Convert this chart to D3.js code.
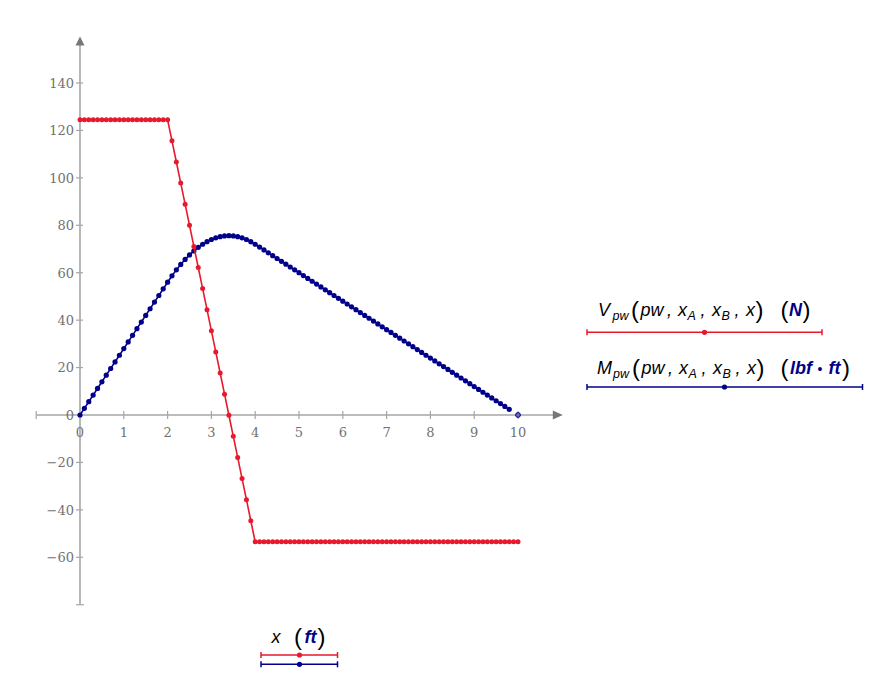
<!DOCTYPE html>
<html>
<head>
<meta charset="utf-8">
<script src="https://cdn.jsdelivr.net/npm/d3@7"></script>
<style>
  html, body { margin: 0; padding: 0; background: #fff; }
  svg { display: block; }
  .tick-label { font-family: "DejaVu Serif", "Liberation Serif", serif; font-size: 13px; fill: #727272; }
  .legend { font-family: "Liberation Sans", Arial, sans-serif; font-style: italic; font-size: 18px; fill: #000; }
</style>
</head>
<body>
<svg id="chart" width="888" height="679"></svg>
<script>
// sample positions along the beam (ft)
var xs = [0, 0.1, 0.2, 0.3, 0.4, 0.5, 0.6, 0.7, 0.8, 0.9,
          1, 1.1, 1.2, 1.3, 1.4, 1.5, 1.6, 1.7, 1.8, 1.9,
          2, 2.1, 2.2, 2.3, 2.4, 2.5, 2.6, 2.7, 2.8, 2.9,
          3, 3.1, 3.2, 3.3, 3.4, 3.5, 3.6, 3.7, 3.8, 3.9,
          4, 4.1, 4.2, 4.3, 4.4, 4.5, 4.6, 4.7, 4.8, 4.9,
          5, 5.1, 5.2, 5.3, 5.4, 5.5, 5.6, 5.7, 5.8, 5.9,
          6, 6.1, 6.2, 6.3, 6.4, 6.5, 6.6, 6.7, 6.8, 6.9,
          7, 7.1, 7.2, 7.3, 7.4, 7.5, 7.6, 7.7, 7.8, 7.9,
          8, 8.1, 8.2, 8.3, 8.4, 8.5, 8.6, 8.7, 8.8, 8.9,
          9, 9.1, 9.2, 9.3, 9.4, 9.5, 9.6, 9.7, 9.8, 9.9, 10];

// shear V_pw (N)
var shearV = [124.5, 124.5, 124.5, 124.5, 124.5, 124.5, 124.5, 124.5, 124.5, 124.5,
              124.5, 124.5, 124.5, 124.5, 124.5, 124.5, 124.5, 124.5, 124.5, 124.5,
              124.5, 115.6, 106.7, 97.8, 88.9, 80.0, 71.1, 62.2, 53.3, 44.4,
              35.5, 26.6, 17.7, 8.8, -0.1, -9.0, -17.9, -26.8, -35.7, -44.6,
              -53.5, -53.5, -53.5, -53.5, -53.5, -53.5, -53.5, -53.5, -53.5, -53.5,
              -53.5, -53.5, -53.5, -53.5, -53.5, -53.5, -53.5, -53.5, -53.5, -53.5,
              -53.5, -53.5, -53.5, -53.5, -53.5, -53.5, -53.5, -53.5, -53.5, -53.5,
              -53.5, -53.5, -53.5, -53.5, -53.5, -53.5, -53.5, -53.5, -53.5, -53.5,
              -53.5, -53.5, -53.5, -53.5, -53.5, -53.5, -53.5, -53.5, -53.5, -53.5,
              -53.5, -53.5, -53.5, -53.5, -53.5, -53.5, -53.5, -53.5, -53.5, -53.5, -53.5];

// moment M_pw (lbf ft), traced up to x = 9.8
var momentM = [0, 2.8, 5.6, 8.4, 11.2, 14.0, 16.8, 19.6, 22.4, 25.2,
               28.0, 30.8, 33.6, 36.4, 39.2, 42.0, 44.8, 47.6, 50.4, 53.2,
               56.0, 58.7, 61.2, 63.5, 65.6, 67.5, 69.2, 70.7, 72.0, 73.1,
               74.0, 74.7, 75.2, 75.5, 75.6, 75.5, 75.2, 74.7, 74.0, 73.1,
               72.0, 70.8, 69.6, 68.4, 67.2, 66.0, 64.8, 63.6, 62.4, 61.2,
               60.0, 58.8, 57.6, 56.4, 55.2, 54.0, 52.8, 51.6, 50.4, 49.2,
               48.0, 46.8, 45.6, 44.4, 43.2, 42.0, 40.8, 39.6, 38.4, 37.2,
               36.0, 34.8, 33.6, 32.4, 31.2, 30.0, 28.8, 27.6, 26.4, 25.2,
               24.0, 22.8, 21.6, 20.4, 19.2, 18.0, 16.8, 15.6, 14.4, 13.2,
               12.0, 10.8, 9.6, 8.4, 7.2, 6.0, 4.8, 3.6, 2.4];
// lone end point of the moment trace
var momentEnd = [[10, 0]];

var yTickValues = [-60, -40, -20, 0, 20, 40, 60, 80, 100, 120, 140];
var xTickValues = [0, 1, 2, 3, 4, 5, 6, 7, 8, 9, 10];

var RED = "#e8192c", NAVY = "#00008b", AXIS = "#a6a6a6";

var svg = d3.select("#chart");
svg.append("rect").attr("width", 888).attr("height", 679).attr("fill", "#fff");

var x = d3.scaleLinear().domain([0, 10]).range([80, 518]);
var y = d3.scaleLinear().domain([0, 140]).range([415, 83]);

// axes
var axes = svg.append("g");
// y axis line from -80 up to the arrow
axes.append("line")
    .attr("x1", x(0)).attr("x2", x(0))
    .attr("y1", y(-80)).attr("y2", y(160) + 8)
    .attr("stroke", AXIS).attr("stroke-width", 1.6);
axes.append("line")
    .attr("x1", x(0) - 4).attr("x2", x(0) + 4)
    .attr("y1", y(-80)).attr("y2", y(-80))
    .attr("stroke", AXIS).attr("stroke-width", 1.2);
axes.append("path")
    .attr("d", "M" + x(0) + "," + (y(160) + 1) + "l-4.5,9h9z")
    .attr("fill", "#777");
// x axis line from -1 to the arrow
axes.append("line")
    .attr("x1", x(-1)).attr("x2", x(11) - 8)
    .attr("y1", y(0)).attr("y2", y(0))
    .attr("stroke", AXIS).attr("stroke-width", 1.6);
axes.append("line")
    .attr("x1", x(-1)).attr("x2", x(-1))
    .attr("y1", y(0) - 4).attr("y2", y(0) + 4)
    .attr("stroke", AXIS).attr("stroke-width", 1.2);
axes.append("path")
    .attr("d", "M" + (x(11) + 1) + "," + y(0) + "l-10,-4.5v9z")
    .attr("fill", "#777");

var fmt = d3.format("");
axes.selectAll(".ytick").data(yTickValues.filter(function(d) { return d !== 0; }))
  .enter().append("line")
    .attr("x1", x(0) - 4).attr("x2", x(0) + 3)
    .attr("y1", function(d) { return y(d); }).attr("y2", function(d) { return y(d); })
    .attr("stroke", AXIS).attr("stroke-width", 1.2);
axes.selectAll(".ylab").data(yTickValues)
  .enter().append("text")
    .attr("class", "tick-label")
    .attr("text-anchor", "end")
    .attr("x", x(0) - 6)
    .attr("y", function(d) { return y(d) + 4.8; })
    .text(function(d) { return fmt(d); });

axes.selectAll(".xtick").data(xTickValues.filter(function(d) { return d !== 0; }))
  .enter().append("line")
    .attr("x1", function(d) { return x(d); }).attr("x2", function(d) { return x(d); })
    .attr("y1", y(0) - 4).attr("y2", y(0) + 4)
    .attr("stroke", AXIS).attr("stroke-width", 1.2);
axes.selectAll(".xlab").data(xTickValues)
  .enter().append("text")
    .attr("class", "tick-label")
    .attr("text-anchor", "middle")
    .attr("x", function(d) { return x(d); })
    .attr("y", y(0) + 21.5)
    .text(function(d) { return fmt(d); });

// traces
var line = d3.line()
    .x(function(d) { return x(d[0]); })
    .y(function(d) { return y(d[1]); });

var vData = xs.map(function(v, i) { return [v, shearV[i]]; });
var mData = momentM.map(function(v, i) { return [xs[i], v]; });

function drawTrace(data, color, r) {
    var g = svg.append("g");
    g.append("path").datum(data)
        .attr("d", line)
        .attr("fill", "none")
        .attr("stroke", color)
        .attr("stroke-width", 1.6);
    g.selectAll("circle").data(data).enter().append("circle")
        .attr("cx", function(d) { return x(d[0]); })
        .attr("cy", function(d) { return y(d[1]); })
        .attr("r", r)
        .attr("fill", color);
}
drawTrace(mData, NAVY, 2.6);
drawTrace(vData, RED, 2.5);

svg.selectAll(".mend").data(momentEnd).enter().append("circle")
    .attr("cx", function(d) { return x(d[0]); })
    .attr("cy", function(d) { return y(d[1]); })
    .attr("r", 2.4)
    .attr("fill", "#6d6db8")
    .attr("stroke", NAVY)
    .attr("stroke-width", 1);

// legend
function legendText(baseline, tokens) {
    var t = svg.append("text").attr("class", "legend");
    tokens.forEach(function(k) {
        var s = t.append("tspan").attr("x", k[1]).attr("y", baseline + (k[2] === "sub" ? 4.5 : 0)).text(k[0]);
        if (k[2] === "sub") s.style("font-size", "12.5px");
        if (k[2] === "par") s.style("font-size", "24px").style("font-style", "normal").attr("y", baseline + 2);
        if (k[2] === "unit") s.style("font-weight", "bold").style("fill", NAVY);
        if (k[2] === "dot") s.style("font-style", "normal").style("fill", NAVY).style("font-size", "14px");
    });
}
function legendLine(y0, x1, x2, xm, color) {
    var g = svg.append("g").attr("stroke", color).attr("stroke-width", 1.5);
    g.append("line").attr("x1", x1).attr("x2", x2).attr("y1", y0).attr("y2", y0);
    g.append("line").attr("x1", x1).attr("x2", x1).attr("y1", y0 - 3).attr("y2", y0 + 3);
    g.append("line").attr("x1", x2).attr("x2", x2).attr("y1", y0 - 3).attr("y2", y0 + 3);
    svg.append("circle").attr("cx", xm).attr("cy", y0).attr("r", 2.6).attr("fill", color);
}

legendText(315.7, [["V", 598], ["pw", 612.5, "sub"], ["(", 631, "par"], ["pw", 640.5],
    [",", 667], ["x", 678], ["A", 687.5, "sub"], [",", 700.5], ["x", 712], ["B", 721.5, "sub"],
    [",", 734.5], ["x", 746], [")", 755.5, "par"], ["(", 780.5, "par"], ["N", 789, "unit"], [")", 802.5, "par"]]);
legendLine(332.3, 587, 822, 704.5, RED);

legendText(373.5, [["M", 597], ["pw", 613, "sub"], ["(", 632, "par"], ["pw", 641.5],
    [",", 668], ["x", 679], ["A", 688.5, "sub"], [",", 701.5], ["x", 713], ["B", 722.5, "sub"],
    [",", 735.5], ["x", 747], [")", 756.5, "par"], ["(", 780.5, "par"], ["lbf", 790, "unit"],
    ["\u2022", 817.5, "dot"], ["ft", 828.5, "unit"], [")", 842, "par"]]);
legendLine(387, 587, 862.5, 724.5, NAVY);

legendText(643.3, [["x", 271.5], ["(", 294, "par"], ["ft", 304.5, "unit"], [")", 317.5, "par"]]);
legendLine(655, 261, 337.5, 299.5, RED);
legendLine(664.3, 261, 337.5, 299.5, NAVY);
</script>
</body>
</html>
